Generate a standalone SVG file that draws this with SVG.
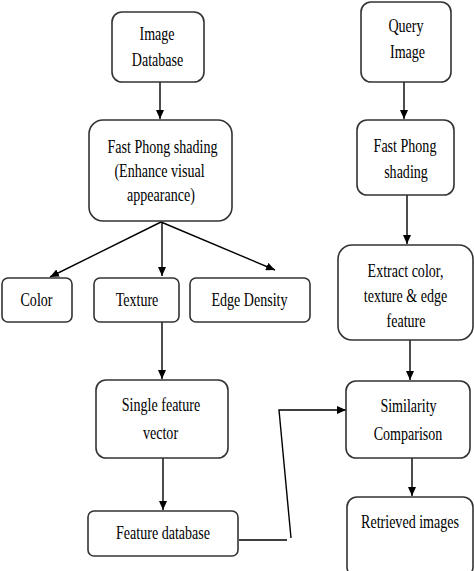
<svg xmlns="http://www.w3.org/2000/svg" width="474" height="571" viewBox="0 0 474 571">
<defs>
<marker id="ah" markerUnits="userSpaceOnUse" markerWidth="10" markerHeight="8" refX="9" refY="4" orient="auto">
<path d="M0,0 L9,4 L0,8 Z" fill="#000"/>
</marker>
<style>
.box{fill:#fff;stroke:#333;stroke-width:1.6}
.t{font-family:'Liberation Serif','Times New Roman',serif;font-size:19px;fill:#000;text-anchor:middle}
.c{fill:none;stroke:#000;stroke-width:1.4}
</style>
</defs>
<rect width="474" height="571" fill="#fff"/>
<g id="connectors">
<line class="c" x1="160" y1="82" x2="160" y2="119" marker-end="url(#ah)"/>
<line class="c" x1="161" y1="222" x2="50" y2="277" marker-end="url(#ah)"/>
<line class="c" x1="162" y1="222" x2="162" y2="276" marker-end="url(#ah)"/>
<line class="c" x1="161" y1="222" x2="275" y2="270" marker-end="url(#ah)"/>
<line class="c" x1="162" y1="322" x2="162" y2="379" marker-end="url(#ah)"/>
<line class="c" x1="163" y1="458" x2="163" y2="510" marker-end="url(#ah)"/>
<path class="c" d="M239,540 H287 M291,538 L279,410 H346" marker-end="url(#ah)"/>
<line class="c" x1="404" y1="82" x2="404" y2="119" marker-end="url(#ah)"/>
<line class="c" x1="407" y1="195" x2="407" y2="244" marker-end="url(#ah)"/>
<line class="c" x1="410" y1="340" x2="410" y2="380" marker-end="url(#ah)"/>
<line class="c" x1="412" y1="458" x2="412" y2="496" marker-end="url(#ah)"/>
</g>
<g id="image-database">
<rect class="box" x="112" y="12" width="92" height="70" rx="10"/>
<text class="t" transform="translate(157,40) scale(0.74,1)">Image</text>
<text class="t" transform="translate(157.5,66) scale(0.74,1)">Database</text>
</g>
<g id="fast-phong-left">
<rect class="box" x="89" y="120" width="143" height="101" rx="14"/>
<text class="t" transform="translate(162.5,153) scale(0.74,1)">Fast Phong shading</text>
<text class="t" transform="translate(159.5,177) scale(0.74,1)">(Enhance visual</text>
<text class="t" transform="translate(161,201) scale(0.74,1)">appearance)</text>
</g>
<g id="color">
<rect class="box" x="2" y="278" width="70" height="44" rx="6"/>
<text class="t" transform="translate(36.5,306) scale(0.74,1)">Color</text>
</g>
<g id="texture">
<rect class="box" x="94" y="278" width="85" height="44" rx="6"/>
<text class="t" transform="translate(137,306) scale(0.74,1)">Texture</text>
</g>
<g id="edge-density">
<rect class="box" x="190" y="278" width="120" height="44" rx="6"/>
<text class="t" transform="translate(249.5,306) scale(0.74,1)">Edge Density</text>
</g>
<g id="single-feature-vector">
<rect class="box" x="96" y="380" width="132" height="78" rx="10"/>
<text class="t" transform="translate(161,411) scale(0.74,1)">Single feature</text>
<text class="t" transform="translate(160.5,439) scale(0.74,1)">vector</text>
</g>
<g id="feature-database">
<rect class="box" x="88" y="511" width="150" height="45" rx="6"/>
<text class="t" transform="translate(163,539) scale(0.74,1)">Feature database</text>
</g>
<g id="query-image">
<rect class="box" x="361" y="2" width="90" height="80" rx="10"/>
<text class="t" transform="translate(406,32) scale(0.74,1)">Query</text>
<text class="t" transform="translate(407.5,58) scale(0.74,1)">Image</text>
</g>
<g id="fast-phong-right">
<rect class="box" x="357" y="120" width="97" height="75" rx="10"/>
<text class="t" transform="translate(405,152) scale(0.74,1)">Fast Phong</text>
<text class="t" transform="translate(406,178) scale(0.74,1)">shading</text>
</g>
<g id="extract-features">
<rect class="box" x="338" y="245" width="135" height="95" rx="14"/>
<text class="t" transform="translate(405.5,277) scale(0.74,1)">Extract color,</text>
<text class="t" transform="translate(405.5,302) scale(0.74,1)">texture &amp; edge</text>
<text class="t" transform="translate(406,327) scale(0.74,1)">feature</text>
</g>
<g id="similarity-comparison">
<rect class="box" x="346" y="381" width="124" height="77" rx="10"/>
<text class="t" transform="translate(408.5,412) scale(0.74,1)">Similarity</text>
<text class="t" transform="translate(408,440) scale(0.74,1)">Comparison</text>
</g>
<g id="retrieved-images">
<rect class="box" x="347" y="497" width="126" height="80" rx="10"/>
<text class="t" transform="translate(410,528) scale(0.74,1)">Retrieved images</text>
</g>
</svg>
